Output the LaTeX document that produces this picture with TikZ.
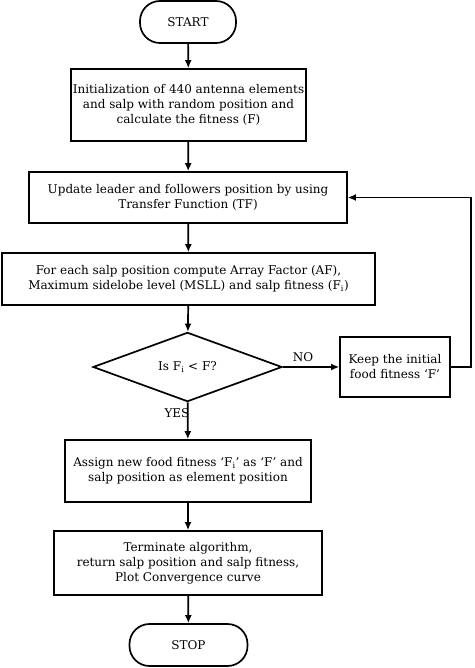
\documentclass[tikz,border=0pt]{standalone}
\usepackage{fontspec}
\setmainfont{DejaVu Serif}
\usetikzlibrary{shapes.geometric,arrows.meta}

\begin{document}
\begin{tikzpicture}[x=1pt, y=-1pt, line width=1.7pt, font=\fontsize{12}{15}\selectfont,
    box/.style={draw, rectangle, align=center, inner sep=2pt},
    term/.style={draw, rectangle, rounded corners=20pt, align=center},
    dec/.style={draw, diamond, inner sep=0pt},
    flow/.style={-{Latex[length=8pt,width=7pt]}}]
  \useasboundingbox (0,0) rectangle (474,668);
  \path node (start)  at (188,22)    [term, minimum width=96pt, minimum height=42pt] {START}
        node (init)   at (188.5,105) [box, minimum width=231pt, minimum height=72pt]
             {Initialization of 440 antenna elements\\and salp with random position and\\calculate the fitness (F)}
        node (upd)    at (188,197.5) [box, minimum width=318pt, minimum height=51pt]
             {Update leader and followers position by using\\Transfer Function (TF)}
        node (comp)   at (188.5,279) [box, minimum width=373pt, minimum height=52pt]
             {For each salp position compute Array Factor (AF),\\Maximum sidelobe level (MSLL) and salp fitness (F\textsubscript{i})}
        node (isf)    at (187.5,367) [dec, minimum width=189pt, minimum height=60pt] {Is F\textsubscript{i} < F?}
        node (keep)   at (395,367)   [box, minimum width=110pt, minimum height=60pt]
             {Keep the initial\\food fitness ‘F’}
        node (assign) at (188,471)   [box, minimum width=246pt, minimum height=62pt]
             {Assign new food fitness ‘F\textsubscript{i}’ as ‘F’ and\\salp position as element position}
        node (termin) at (188,563)   [box, minimum width=268pt, minimum height=64pt]
             {Terminate algorithm,\\return salp position and salp fitness,\\Plot Convergence curve}
        node (stop)   at (188.5,645) [term, minimum width=118pt, minimum height=42pt] {STOP}
        node at (303,357) {NO}
        node at (177,413) {YES};
  \coordinate (back) at (471,0);
  \draw[flow] (start) -- (init);
  \draw[flow] (init) -- (upd);
  \draw[flow] (upd) -- (comp);
  \draw[flow] (comp) -- (isf);
  \draw[flow] (isf) -- (keep);
  \draw[flow] (isf) -- (assign);
  \draw[flow] (assign) -- (termin);
  \draw[flow] (termin) -- (stop);
  \draw[flow] (keep.east) -| (back |- upd.east) -- (upd.east);
\end{tikzpicture}
\end{document}
